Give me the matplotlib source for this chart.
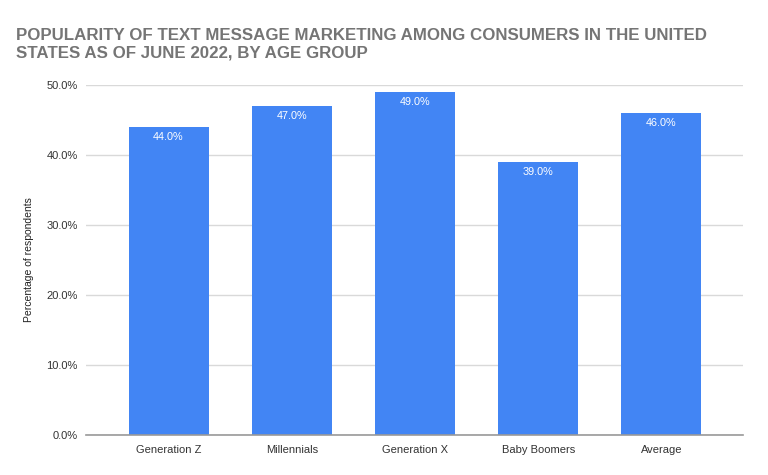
import matplotlib
matplotlib.use('Agg')
import matplotlib.pyplot as plt
from matplotlib.ticker import FuncFormatter

plt.rcParams['font.family'] = ['Liberation Sans', 'DejaVu Sans']

categories = ['Generation Z', 'Millennials', 'Generation X', 'Baby Boomers', 'Average']
values = [44.0, 47.0, 49.0, 39.0, 46.0]
yticks = [0, 10, 20, 30, 40, 50]

fig = plt.figure(figsize=(7.68, 4.75), dpi=100)
ax = fig.add_axes([0.112, 0.084, 0.855, 0.737])

pos = range(len(categories))
ax.bar(pos, values, width=0.65, color='#4285F4', zorder=3)
for x, v in zip(pos, values):
    ax.annotate('%.1f%%' % v, (x, v), xytext=(0, -7.5), textcoords='offset points',
                ha='center', va='center', color='white', fontsize=7.8, zorder=4)

ax.set_xlim(-0.67, 4.66)
ax.set_ylim(0, 50)
ax.set_yticks(yticks)
ax.yaxis.set_major_formatter(FuncFormatter(lambda v, p: '%.1f%%' % v))
ax.set_xticks(list(pos))
ax.set_xticklabels(categories)
ax.tick_params(axis='both', length=0, labelsize=8, colors='#333333')
ax.tick_params(axis='x', pad=7)
ax.tick_params(axis='y', pad=6)
ax.grid(axis='y', color='#d9d9d9', linewidth=1, zorder=0)
for s in ['top', 'right', 'left']:
    ax.spines[s].set_visible(False)
ax.spines['bottom'].set_color('#999999')
ax.spines['bottom'].set_linewidth(1.2)
ax.spines['bottom'].set_zorder(5)
ax.set_ylabel('Percentage of respondents', fontsize=7.5, color='#222222', labelpad=9)

fig.text(0.021, 0.942, 'POPULARITY OF TEXT MESSAGE MARKETING AMONG CONSUMERS IN THE UNITED\nSTATES AS OF JUNE 2022, BY AGE GROUP',
         fontsize=12.2, fontweight='bold', color='#757575', va='top', ha='left', linespacing=1.22)

fig.savefig('out.png', dpi=100)
